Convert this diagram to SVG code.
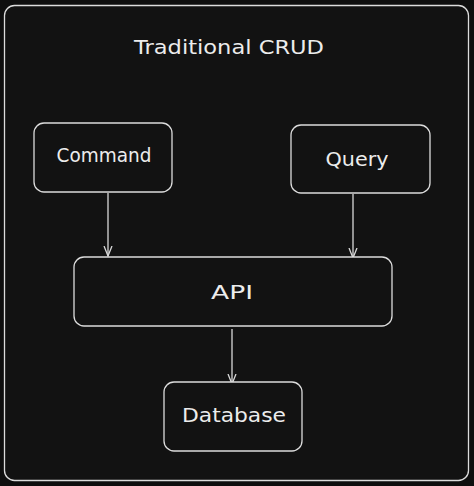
<svg xmlns="http://www.w3.org/2000/svg" width="474" height="486" viewBox="0 0 474 486">
<defs>
<style>
.box{fill:#121212;stroke:#dcdcdc;stroke-width:1.3}
.lbl{fill:#ececec;font-family:"DejaVu Sans","Liberation Sans",sans-serif;font-size:20px;text-anchor:middle}
.edge{stroke:#d8d8d8;stroke-width:1.3;fill:none}
</style>
<marker id="arr" markerWidth="12" markerHeight="12" refX="10" refY="6" orient="auto" markerUnits="userSpaceOnUse">
<path d="M0,2 L10,6 L0,10" fill="none" stroke="#d8d8d8" stroke-width="1.3"/>
</marker>
</defs>
<rect x="0" y="0" width="474" height="486" fill="#0e0e0e"/>
<g id="frame">
<rect x="4.5" y="5.5" width="464" height="475" rx="10" class="box"/>
<text x="229" y="54" class="lbl" textLength="190" lengthAdjust="spacingAndGlyphs">Traditional CRUD</text>
</g>
<g id="edges">
<line x1="108" y1="193" x2="108" y2="256" class="edge" marker-end="url(#arr)"/>
<line x1="353" y1="194" x2="353" y2="258" class="edge" marker-end="url(#arr)"/>
<line x1="232" y1="329" x2="232" y2="384" class="edge" marker-end="url(#arr)"/>
</g>
<g id="command">
<rect x="34" y="123" width="138" height="69" rx="10" class="box"/>
<text x="104" y="162" class="lbl" textLength="95" lengthAdjust="spacingAndGlyphs">Command</text>
</g>
<g id="query">
<rect x="291" y="125" width="139" height="68" rx="10" class="box"/>
<text x="357" y="166" class="lbl" textLength="63" lengthAdjust="spacingAndGlyphs">Query</text>
</g>
<g id="api">
<rect x="74" y="257" width="318" height="69" rx="10" class="box"/>
<text x="232" y="299" class="lbl" textLength="42" lengthAdjust="spacingAndGlyphs">API</text>
</g>
<g id="database">
<rect x="164" y="382" width="138" height="69" rx="10" class="box"/>
<text x="234" y="422" class="lbl" textLength="104" lengthAdjust="spacingAndGlyphs">Database</text>
</g>
</svg>
